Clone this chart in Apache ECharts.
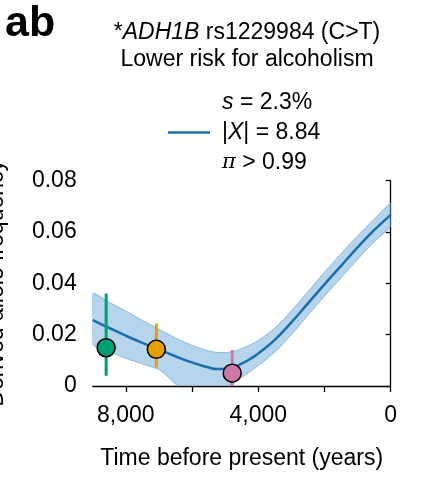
<!DOCTYPE html>
<html>
<head>
<meta charset="utf-8">
<script src="https://cdn.jsdelivr.net/npm/echarts@6/dist/echarts.min.js"></script>
<style>
  html, body { margin: 0; padding: 0; background: #fff; }
  #main { width: 428px; height: 482px; }
</style>
</head>
<body>
<div id="main"></div>
<script>
// fitted trajectory (years before present) and its band
var years = [9000, 8500, 8000, 7500, 7000, 6750, 6500, 6250, 6000, 5500, 5250, 5000, 4750, 4500, 4250, 4000, 3500, 3000, 2500, 2000, 1500, 1000, 500, 0];
var meanFreq = [0.0257, 0.0226, 0.0196, 0.0168, 0.0142, 0.0129, 0.0116, 0.0103, 0.0092, 0.0072, 0.0066, 0.0066, 0.0073, 0.0087, 0.0105, 0.0127, 0.0180, 0.0248, 0.0322, 0.0396, 0.0468, 0.0540, 0.0607, 0.0667];
var upperFreq = [0.0362, 0.0326, 0.0292, 0.0256, 0.0221, 0.0204, 0.0187, 0.0172, 0.0158, 0.0137, 0.0131, 0.0130, 0.0135, 0.0146, 0.0160, 0.0177, 0.0226, 0.0293, 0.0368, 0.0443, 0.0515, 0.0585, 0.0650, 0.0712];
var lowerFreq = [0.0162, 0.0134, 0.0108, 0.0086, 0.0064, 0.0038, 0.0008, 0, 0, 0, 0, 0, 0.0012, 0.0034, 0.0056, 0.0080, 0.0132, 0.0200, 0.0276, 0.0350, 0.0422, 0.0494, 0.0562, 0.0622];

// ancient sample estimates
var pointYears = [8594, 7078, 4787];
var pointFreq = [0.0149, 0.0143, 0.0050];
var pointLow = [0.0040, 0.0072, 0.0000];
var pointHigh = [0.0360, 0.0243, 0.0140];
var pointColors = ['#009E73', '#E69F00', '#CC79A7'];

var xTicks = [0, 2000, 4000, 6000, 8000];
var xLabels = [0, 4000, 8000];

var FONT = 'Liberation Sans';
var lineBlue = '#1a6fab';

function pairs(xs, ys) {
    return xs.map(function (x, i) { return [x, ys[i]]; });
}

var errData = pointYears.map(function (x, i) { return [x, pointLow[i], pointHigh[i], i]; });
var dotData = pointYears.map(function (x, i) {
    return { value: [x, pointFreq[i]], itemStyle: { color: pointColors[i] } };
});

var myChart = echarts.init(document.getElementById('main'), null, { renderer: 'canvas' });

var option = {
    animation: false,
    textStyle: { fontFamily: FONT, color: '#000' },
    title: {
        left: 242,
        top: 14,
        textAlign: 'center',
        text: '{n|*}{i|ADH1B}{n| rs1229984 (C>T)}\n{n|Lower risk for alcoholism}',
        textStyle: {
            fontWeight: 'normal',
            rich: {
                n: { fontFamily: FONT, fontSize: 23, fontWeight: 'normal', color: '#000', lineHeight: 27 },
                i: { fontFamily: FONT, fontSize: 23, fontWeight: 'normal', color: '#000', fontStyle: 'italic', lineHeight: 27 }
            }
        }
    },
    legend: {
        data: ['fit'],
        left: 168,
        top: 91,
        padding: 0,
        icon: 'rect',
        itemWidth: 42,
        itemHeight: 2.5,
        itemStyle: { color: lineBlue },
        formatter: function () {
            return '{i|s}{n| = 2.3%}\n{n||}{i|X}{n|| = 8.84}\n{p|π}{n| > 0.99}';
        },
        textStyle: {
            padding: [0, 0, 0, 7],
            rich: {
                n: { fontFamily: FONT, fontSize: 23, color: '#000', lineHeight: 30 },
                i: { fontFamily: FONT, fontSize: 23, color: '#000', fontStyle: 'italic', lineHeight: 30 },
                p: { fontFamily: 'DejaVu Serif', fontSize: 21, color: '#000', fontStyle: 'italic', lineHeight: 30 }
            }
        }
    },
    graphic: [{
        type: 'text',
        left: 5,
        top: 3,
        style: { text: 'ab', fontFamily: FONT, fontSize: 43, fontWeight: 'bold', fill: '#000' }
    }],
    grid: {
        left: 92.7,
        right: 37.3,
        top: 180.7,
        bottom: 96,
        containLabel: false,
        outerBoundsMode: 'none'
    },
    xAxis: {
        type: 'value',
        min: 0,
        max: 9000,
        inverse: true,
        name: 'Time before present (years)',
        nameLocation: 'middle',
        nameGap: 61,
        nameTextStyle: { fontFamily: FONT, fontSize: 23, color: '#000' },
        axisLine: { lineStyle: { color: '#000', width: 1.3 } },
        axisTick: { show: true, length: 6, customValues: xTicks, lineStyle: { color: '#000', width: 1.3 } },
        axisLabel: {
            customValues: xLabels,
            margin: 18,
            fontFamily: FONT,
            fontSize: 23,
            color: '#000',
            formatter: function (v) { return v.toLocaleString('en-US'); }
        },
        splitLine: { show: false }
    },
    yAxis: {
        type: 'value',
        min: 0,
        max: 0.08,
        interval: 0.02,
        name: 'Derived allele frequency',
        nameLocation: 'middle',
        nameGap: 85,
        nameTextStyle: { fontFamily: FONT, fontSize: 23, color: '#000' },
        axisLine: { show: true, lineStyle: { color: '#000', width: 1.3 } },
        axisTick: { show: true, length: 5, lineStyle: { color: '#000', width: 1.3 } },
        axisLabel: {
            margin: 16,
            fontFamily: FONT,
            fontSize: 23,
            color: '#000',
            formatter: function (v) { return v === 0 ? '0' : v.toFixed(2); }
        },
        splitLine: { show: false }
    },
    series: [{
        // confidence band drawn as one polygon through the axis scales
        name: 'band',
        type: 'custom',
        data: [0],
        clip: true,
        silent: true,
        z: 1,
        renderItem: function (params, api) {
            var up = years.map(function (x, i) { return api.coord([x, upperFreq[i]]); });
            var lo = years.map(function (x, i) { return api.coord([x, lowerFreq[i]]); });
            return {
                type: 'group',
                children: [{
                    type: 'polygon',
                    shape: { points: up.concat(lo.slice().reverse()), smooth: 0.3 },
                    style: { fill: 'rgba(110,170,215,0.5)', stroke: null }
                }, {
                    type: 'polyline',
                    shape: { points: up, smooth: 0.3 },
                    style: { stroke: '#8dbbdf', lineWidth: 1, fill: null }
                }, {
                    type: 'polyline',
                    shape: { points: lo, smooth: 0.3 },
                    style: { stroke: '#8dbbdf', lineWidth: 1, fill: null }
                }]
            };
        }
    }, {
        name: 'fit',
        type: 'line',
        smooth: true,
        showSymbol: false,
        lineStyle: { color: lineBlue, width: 2.5 },
        data: pairs(years, meanFreq),
        z: 2
    }, {
        name: 'err',
        type: 'custom',
        data: errData,
        z: 3,
        renderItem: function (params, api) {
            var top = api.coord([api.value(0), api.value(2)]);
            var bot = api.coord([api.value(0), api.value(1)]);
            return {
                type: 'line',
                shape: { x1: top[0], y1: top[1], x2: bot[0], y2: bot[1] },
                style: { stroke: pointColors[api.value(3)], lineWidth: 3 }
            };
        }
    }, {
        name: 'samples',
        type: 'scatter',
        symbolSize: 18,
        data: dotData,
        itemStyle: { borderColor: '#000', borderWidth: 1.5, opacity: 1 },
        z: 4
    }]
};

myChart.setOption(option);
</script>
</body>
</html>
